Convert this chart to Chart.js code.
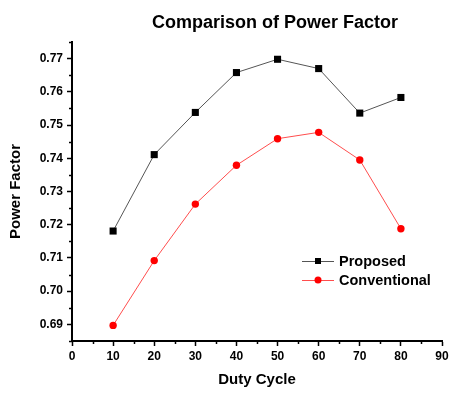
<!DOCTYPE html>
<html><head><meta charset="utf-8">
<script src="https://cdn.jsdelivr.net/npm/chart.js@4.4.1/dist/chart.umd.min.js"></script>
<style>html,body{margin:0;padding:0;background:#fff}#wrap{width:474px;height:395px}</style>
</head><body><div id="wrap"><canvas id="c" width="474" height="395"></canvas></div>
<script>
const dutyCycle = [10, 20, 30, 40, 50, 60, 70, 80];
const proposed = [0.7181, 0.7411, 0.7538, 0.7658, 0.7698, 0.7670, 0.7536, 0.7583];
const conventional = [0.6897, 0.7092, 0.7262, 0.7379, 0.7459, 0.7478, 0.7395, 0.7188];
const yTicks = [0.69, 0.70, 0.71, 0.72, 0.73, 0.74, 0.75, 0.76, 0.77];
const xTicks = [0, 10, 20, 30, 40, 50, 60, 70, 80, 90];
const titleText = 'Comparison of Power Factor';
const font = '"Liberation Sans", Arial, sans-serif';

const minorTicks = {
  id: 'minorTicks',
  afterDraw(chart) {
    const ctx = chart.ctx, xs = chart.scales.x, ys = chart.scales.y;
    ctx.save();
    ctx.strokeStyle = '#000'; ctx.lineWidth = 1.5;
    for (let i = 0; i < xTicks.length - 1; i++) {
      const px = Math.round(xs.getPixelForValue((xTicks[i] + xTicks[i+1]) / 2)) + 0.5;
      ctx.beginPath(); ctx.moveTo(px, xs.top); ctx.lineTo(px, xs.top + 3); ctx.stroke();
    }
    const yVals = [yTicks[0] - 0.005].concat(yTicks.map(v => v + 0.005));
    yVals.forEach(v => {
      const py = Math.round(ys.getPixelForValue(v)) + 0.5;
      ctx.beginPath(); ctx.moveTo(ys.right, py); ctx.lineTo(ys.right - 3, py); ctx.stroke();
    });
    // title
    ctx.fillStyle = '#000';
    ctx.font = 'bold 18px ' + font;
    ctx.textAlign = 'center'; ctx.textBaseline = 'middle';
    ctx.fillText(titleText, 275, 23);
    // legend
    const items = chart.data.datasets;
    const lx0 = 302, lx1 = 334, tx = 339, ly = [261, 280];
    items.forEach((ds, i) => {
      const y = ly[i];
      ctx.strokeStyle = ds.borderColor; ctx.lineWidth = 1;
      ctx.beginPath(); ctx.moveTo(lx0, y + 0.5); ctx.lineTo(lx1, y + 0.5); ctx.stroke();
      ctx.fillStyle = ds.pointBackgroundColor;
      const mx = (lx0 + lx1) / 2;
      if (ds.pointStyle === 'rect') { ctx.fillRect(mx - 3, y - 3, 6, 6); }
      else { ctx.beginPath(); ctx.arc(mx, y, 3.5, 0, Math.PI * 2); ctx.fill(); }
      ctx.fillStyle = '#000';
      ctx.font = 'bold 14.5px ' + font;
      ctx.textAlign = 'left'; ctx.textBaseline = 'middle';
      ctx.fillText(ds.label, tx, y + 1);
    });
    ctx.restore();
  }
};

new Chart(document.getElementById('c'), {
  type: 'line',
  data: {
    datasets: [
      { label: 'Proposed', data: dutyCycle.map((x, i) => ({x, y: proposed[i]})),
        borderColor: '#555555', borderWidth: 1, pointStyle: 'rect', pointRadius: 5,
        pointBackgroundColor: '#000', pointBorderColor: '#000', pointBorderWidth: 0 },
      { label: 'Conventional', data: dutyCycle.map((x, i) => ({x, y: conventional[i]})),
        borderColor: '#ff4d4d', borderWidth: 1, pointStyle: 'circle', pointRadius: 3.7,
        pointBackgroundColor: '#ff0000', pointBorderColor: '#ff0000', pointBorderWidth: 0 }
    ]
  },
  options: {
    responsive: false, animation: false,
    layout: { padding: { left: 0, right: 32, top: 42, bottom: 0 } },
    plugins: { legend: { display: false }, title: { display: false }, tooltip: { enabled: false } },
    scales: {
      x: {
        type: 'linear', min: 0, max: 90,
        afterBuildTicks: s => { s.ticks = xTicks.map(v => ({value: v})); },
        afterFit: s => { s.height = 54; },
        grid: { drawOnChartArea: false, drawTicks: true, tickLength: 5, tickColor: '#000', tickWidth: 1.5 },
        border: { display: true, color: '#000', width: 2 },
        ticks: { color: '#000', font: { family: font, size: 12, weight: 'bold' }, padding: 3, maxRotation: 0,
                 callback: v => String(v) },
        title: { display: true, text: 'Duty Cycle', color: '#000', font: { family: font, size: 15, weight: 'bold' },
                 padding: { top: 0, bottom: 6 } }
      },
      y: {
        type: 'linear', min: 0.685, max: 0.775,
        afterBuildTicks: s => { s.ticks = yTicks.map(v => ({value: v})); },
        afterFit: s => { s.width = 72; },
        grid: { drawOnChartArea: false, drawTicks: true, tickLength: 5, tickColor: '#000', tickWidth: 1.5 },
        border: { display: true, color: '#000', width: 2 },
        ticks: { color: '#000', font: { family: font, size: 12, weight: 'bold' }, padding: 4,
                 callback: v => v.toFixed(2) },
        title: { display: true, text: 'Power Factor', color: '#000', font: { family: font, size: 15, weight: 'bold' },
                 padding: { top: 7, bottom: 0 } }
      }
    }
  },
  plugins: [minorTicks]
});
</script></body></html>
